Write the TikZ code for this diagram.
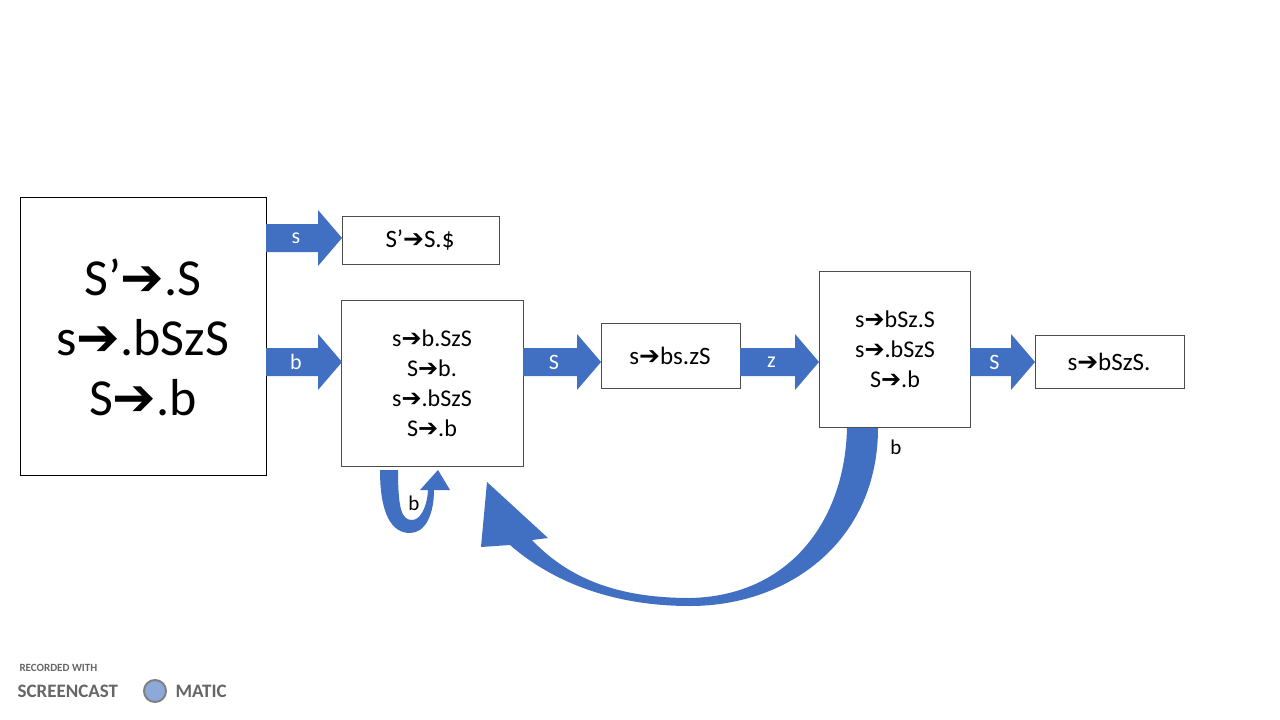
\documentclass[tikz,border=0pt]{standalone}
\usepackage{fontspec}
\setmainfont{Carlito}
\newfontfamily\arrf{DejaVu Sans}
\newcommand\ar{{\arrf\char"2794}}
\begin{document}
\begin{tikzpicture}[x=1pt,y=-1pt,
  box/.style={draw=black!70,line width=0.8pt,fill=white,inner sep=0pt},
  lab/.style={text=white,font=\fontsize{22}{22}\selectfont},
  tx/.style={font=\fontsize{25}{30}\selectfont,align=center}]
\definecolor{arrblue}{HTML}{4170C2}
\useasboundingbox (0,0) rectangle (1280,720);
\fill[white] (0,0) rectangle (1280,720);
% boxes
\draw[box,draw=black] (20,197) rectangle (266,475);
\node[font=\fontsize{52}{60}\selectfont,align=center] (A) at (143,337) {S’\ar.S\\s\ar.bSzS\\S\ar.b};
\draw[box] (342,216) rectangle (499,264);
\node[tx] (B) at (420,240) {S’\ar S.\$};
\draw[box] (341,300) rectangle (523,466);
\node[tx,font=\fontsize{24}{30}\selectfont] (C) at (432,383) {s\ar b.SzS\\S\ar b.\\s\ar.bSzS\\S\ar.b};
\draw[box] (601,323) rectangle (740,388);
\node[tx] (D) at (670,356) {s\ar bs.zS};
\draw[box] (819,271) rectangle (970,427);
\node[tx,font=\fontsize{24}{30}\selectfont] (E) at (895,349) {s\ar bSz.S\\s\ar.bSzS\\S\ar.b};
\draw[box] (1035,335) rectangle (1184,388);
\node[tx] (F) at (1109,362) {s\ar bSzS.};
% straight block arrows
\newcommand\blockarr[4]{% x0 x1 yc label
  \fill[arrblue] (#1,#3-14) -- (#2-24,#3-14) -- (#2-24,#3-28) -- (#2,#3) -- (#2-24,#3+28) -- (#2-24,#3+14) -- (#1,#3+14) -- cycle;
  \node[lab] at ({(#1+#2)/2-8},#3) {#4};}
\blockarr{266}{342}{238}{s}
\blockarr{266}{342}{362}{b}
\blockarr{523}{601}{362}{S}
\blockarr{740}{819}{362}{z}
\blockarr{970}{1035}{362}{S}
% self loop
\fill[arrblue] (380,470) .. controls (380,515) and (392,533) .. (410,533)
  .. controls (425,533) and (434,515) .. (434,490) -- (450,490) -- (438,470)
  -- (420,490) -- (428,490) .. controls (427,508) and (420,520) .. (412,520)
  .. controls (402,520) and (398,510) .. (398,470) -- cycle;
\node[font=\fontsize{21}{21}\selectfont] (lb1) at (414,503) {b};
% big return arrow
\fill[arrblue] (878,428) .. controls (878,540) and (790,606) .. (690,606)
  .. controls (610,606) and (550,580) .. (510,545) -- (481,547) -- (487,482)
  -- (548,538) -- (532,540) .. controls (570,580) and (620,598) .. (690,598)
  .. controls (790,596) and (845,520) .. (847,428) -- cycle;
\node[font=\fontsize{21}{21}\selectfont] (lb2) at (896,447) {b};
% watermark
\node[anchor=west,text=black!60,font=\fontsize{11}{11}\selectfont\bfseries] (w1) at (16,668) {RECORDED WITH};
\node[anchor=west,text=black!60,font=\fontsize{19}{19}\selectfont\bfseries] (w2) at (14,691) {SCREENCAST};
\node[circle,draw=black!50,line width=2pt,fill=arrblue!60,minimum size=22pt,inner sep=0pt] (w3) at (155,691) {};
\node[anchor=west,text=black!60,font=\fontsize{19}{19}\selectfont\bfseries] (w4) at (172,691) {MATIC};
\end{tikzpicture}
\end{document}
